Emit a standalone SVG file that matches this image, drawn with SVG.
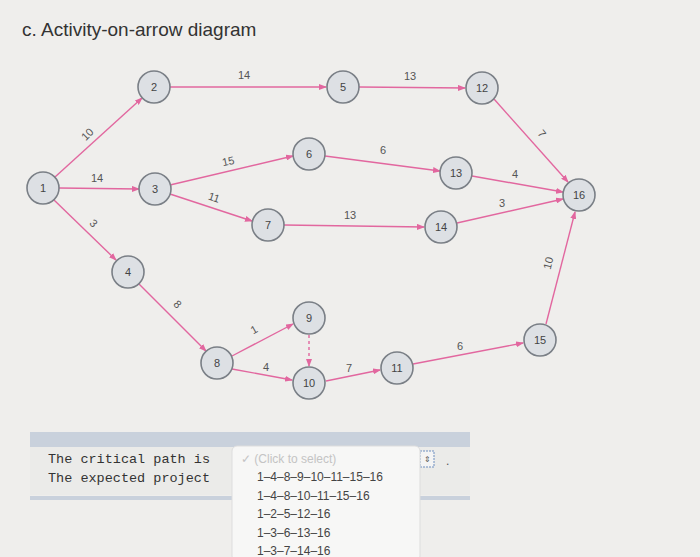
<svg xmlns="http://www.w3.org/2000/svg" width="700" height="557" viewBox="0 0 700 557">
<style>
.n circle{fill:#dde0e4;stroke:#7a7f86;stroke-width:1.6}
.n text{font-family:"Liberation Sans",Arial,sans-serif;font-size:11px;fill:#444;text-anchor:middle;dominant-baseline:central}
#edges line{stroke:#e2679f;stroke-width:1.4;marker-end:url(#ah)}
.lb{font-family:"Liberation Sans",Arial,sans-serif;font-size:11px;fill:#555;text-anchor:middle}
.mono{font-family:"Liberation Mono","Courier New",monospace;font-size:13.5px;fill:#333}
.opt{font-family:"Liberation Sans",Arial,sans-serif;font-size:12px;fill:#444}
</style>
<defs><marker id="ah" markerWidth="8" markerHeight="6" refX="7" refY="3" orient="auto" markerUnits="userSpaceOnUse"><path d="M0,0L8,3L0,6z" fill="#e2679f"/></marker></defs>
<rect width="700" height="557" fill="#efeeec"/>
<text x="22" y="36" font-family="'Liberation Sans',Arial,sans-serif" font-size="19" fill="#333">c. Activity-on-arrow diagram</text>
<g id="edges">
<line x1="55" y1="177" x2="142" y2="98"/>
<line x1="170" y1="87" x2="326" y2="87"/>
<line x1="359" y1="87" x2="465" y2="88"/>
<line x1="494" y1="99" x2="568" y2="182"/>
<line x1="59" y1="188" x2="139" y2="189"/>
<line x1="170" y1="185" x2="293" y2="156"/>
<line x1="325" y1="156" x2="440" y2="171"/>
<line x1="472" y1="176" x2="563" y2="192"/>
<line x1="170" y1="194" x2="252" y2="221"/>
<line x1="284" y1="225" x2="424" y2="227"/>
<line x1="457" y1="223" x2="563" y2="199"/>
<line x1="54" y1="200" x2="116" y2="260"/>
<line x1="139" y1="284" x2="206" y2="351"/>
<line x1="232" y1="356" x2="293" y2="324"/>
<line x1="232" y1="369" x2="292" y2="380"/>
<line x1="309" y1="335" x2="309" y2="366" stroke-dasharray="3,3"/>
<line x1="326" y1="381" x2="380" y2="370"/>
<line x1="413" y1="364" x2="523" y2="343"/>
<line x1="546" y1="324" x2="575" y2="212"/>
</g>
<g class="lb">
<text transform="translate(90,137) rotate(-45)">10</text>
<text x="244" y="79">14</text><text x="410" y="80">13</text>
<text transform="translate(539,136) rotate(50)">7</text>
<text x="97" y="182">14</text><text transform="translate(229,165) rotate(-12)">15</text>
<text x="383" y="154">6</text><text x="515" y="178">4</text>
<text transform="translate(213,201) rotate(18)">11</text><text x="350" y="219">13</text>
<text x="502" y="207">3</text>
<text transform="translate(91,226) rotate(45)">3</text>
<text transform="translate(175,307) rotate(45)">8</text>
<text transform="translate(256,333) rotate(-30)">1</text>
<text x="266" y="371">4</text><text x="349" y="372">7</text>
<text x="460" y="350">6</text>
<text transform="translate(552,264) rotate(-76)">10</text>
</g>
<g id="n1" class="n"><circle cx="43" cy="188" r="16"/><text x="43" y="188">1</text></g>
<g id="n2" class="n"><circle cx="154" cy="87" r="16"/><text x="154" y="87">2</text></g>
<g id="n3" class="n"><circle cx="155" cy="189" r="16"/><text x="155" y="189">3</text></g>
<g id="n4" class="n"><circle cx="128" cy="272" r="16"/><text x="128" y="272">4</text></g>
<g id="n5" class="n"><circle cx="343" cy="87" r="16"/><text x="343" y="87">5</text></g>
<g id="n6" class="n"><circle cx="309" cy="154" r="16"/><text x="309" y="154">6</text></g>
<g id="n7" class="n"><circle cx="268" cy="225" r="16"/><text x="268" y="225">7</text></g>
<g id="n8" class="n"><circle cx="217" cy="363" r="16"/><text x="217" y="363">8</text></g>
<g id="n9" class="n"><circle cx="309" cy="318" r="16"/><text x="309" y="318">9</text></g>
<g id="n10" class="n"><circle cx="309" cy="383" r="16"/><text x="309" y="383">10</text></g>
<g id="n11" class="n"><circle cx="397" cy="368" r="16"/><text x="397" y="368">11</text></g>
<g id="n12" class="n"><circle cx="482" cy="88" r="16"/><text x="482" y="88">12</text></g>
<g id="n13" class="n"><circle cx="456" cy="173" r="16"/><text x="456" y="173">13</text></g>
<g id="n14" class="n"><circle cx="441" cy="227" r="16"/><text x="441" y="227">14</text></g>
<g id="n15" class="n"><circle cx="540" cy="340" r="16"/><text x="540" y="340">15</text></g>
<g id="n16" class="n"><circle cx="579" cy="195" r="16"/><text x="579" y="195">16</text></g>
<rect x="30" y="432" width="440" height="15" fill="#c9d1dc"/>
<rect x="30" y="447" width="440" height="48" fill="#ebebe9"/>
<rect x="30" y="496" width="440" height="4" fill="#c9d1dc"/>
<text class="mono" x="48" y="463">The critical path is</text>
<text class="mono" x="48" y="482">The expected project</text>
<rect x="420" y="451" width="14" height="16" fill="#f4f4f4" stroke="#6f8fc0" stroke-dasharray="2,1"/>
<text x="424" y="462" font-family="'Liberation Sans',Arial,sans-serif" font-size="8" fill="#555">⇕</text>
<text x="446" y="465" font-family="'Liberation Sans',Arial,sans-serif" font-size="12" fill="#555">.</text>
<rect x="232" y="446" width="188" height="115" rx="5" fill="#f7f7f6" stroke="#ddd"/>
<text class="opt" x="241" y="463" fill="#bbb" style="fill:#c4c4c4">✓ (Click to select)</text>
<text class="opt" x="257" y="481">1–4–8–9–10–11–15–16</text>
<text class="opt" x="257" y="500">1–4–8–10–11–15–16</text>
<text class="opt" x="257" y="518">1–2–5–12–16</text>
<text class="opt" x="257" y="537">1–3–6–13–16</text>
<text class="opt" x="257" y="555">1–3–7–14–16</text>
</svg>
